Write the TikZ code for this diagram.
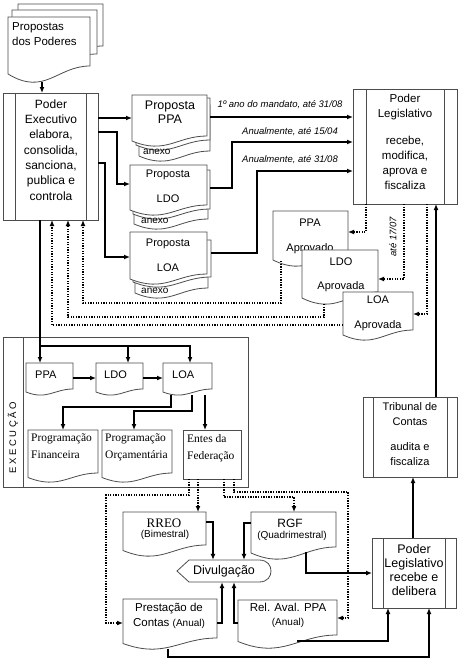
\documentclass[tikz,border=0pt]{standalone}
\usepackage{fontspec}
\setmainfont{Liberation Sans}
\newfontfamily\timesfont{Liberation Serif}
\newfontfamily\spacedfont[LetterSpace=28]{Liberation Sans}
\usetikzlibrary{arrows.meta,fit}

% document shape: rectangle with a wavy bottom
\makeatletter
\newdimen\doc@l \newdimen\doc@r \newdimen\doc@t \newdimen\doc@b
\newdimen\doc@w \newdimen\doc@ma \newdimen\doc@mb
\pgfkeys{/pgf/doc wave/.initial=11pt}
\pgfdeclareshape{doc}{%
  \inheritsavedanchors[from=rectangle]%
  \inheritanchorborder[from=rectangle]%
  \inheritanchor[from=rectangle]{center}%
  \inheritanchor[from=rectangle]{text}%
  \inheritanchor[from=rectangle]{base}%
  \inheritanchor[from=rectangle]{mid}%
  \inheritanchor[from=rectangle]{north}%
  \inheritanchor[from=rectangle]{south}%
  \inheritanchor[from=rectangle]{east}%
  \inheritanchor[from=rectangle]{west}%
  \inheritanchor[from=rectangle]{north east}%
  \inheritanchor[from=rectangle]{north west}%
  \inheritanchor[from=rectangle]{south east}%
  \inheritanchor[from=rectangle]{south west}%
  \backgroundpath{%
    \southwest \doc@l=\pgf@x \doc@b=\pgf@y
    \northeast \doc@r=\pgf@x \doc@t=\pgf@y
    \pgfmathsetlength\doc@w{\pgfkeysvalueof{/pgf/doc wave}}%
    \doc@ma=.4\doc@l \advance\doc@ma by .6\doc@r
    \doc@mb=.55\doc@l \advance\doc@mb by .45\doc@r
    \pgfpathmoveto{\pgfqpoint{\doc@l}{\doc@t}}%
    \pgfpathlineto{\pgfqpoint{\doc@r}{\doc@t}}%
    \pgfpathlineto{\pgfqpoint{\doc@r}{\dimexpr\doc@b+\doc@w\relax}}%
    \pgfpathcurveto{\pgfqpoint{\doc@ma}{\dimexpr\doc@b+\doc@w\relax}}%
      {\pgfqpoint{\doc@mb}{\dimexpr\doc@b-0.9\doc@w\relax}}%
      {\pgfqpoint{\doc@l}{\dimexpr\doc@b+0.5\doc@w\relax}}%
    \pgfpathclose
  }%
}
\makeatother

\begin{document}
\begin{tikzpicture}[x=1pt,y=1pt,yscale=-1,xscale=1,
  box/.style={draw=black!70, line width=0.8pt, fill=white, inner sep=0pt, outer sep=0pt},
  docbox/.style={box, shape=doc, doc wave=#1}, docbox/.default=11pt,
  procbox/.style={box, path picture={\draw[black!70, line width=0.8pt]
      ([xshift=#1]path picture bounding box.north west) -- ([xshift=#1]path picture bounding box.south west)
      ([xshift=-#1]path picture bounding box.north east) -- ([xshift=-#1]path picture bounding box.south east);}},
  procbox/.default=12pt,
  txt/.style={inner sep=0pt, align=center},
  conn/.style={line width=1.4pt, -{Latex[length=6pt,width=5pt]}},
  dotconn/.style={conn, dash pattern=on 1.3pt off 1.3pt},
  lbl/.style={inner sep=0pt, font=\itshape\fontsize{9.5}{11}\selectfont}]
\useasboundingbox (0,0) rectangle (474,669);

%Shape: Propostas dos Poderes
\node[docbox=14pt, fit={(18,4) (103,60)}] (propC) {};
\node[docbox=14pt, fit={(12,10) (97,68)}] (propB) {};
\node[docbox=16pt, fit={(8,17) (90,82)}] (propA) {};
% Text Node
\node[txt, align=left, anchor=north west, font=\fontsize{11.5}{15}\selectfont] (propT) at (12,22) {Propostas\\dos Poderes};

%Shape: Poder Executivo
\node[procbox=12pt, fit={(3,93) (98,220)}] (exec) {};
\node[txt, font=\fontsize{12}{15.3}\selectfont] (execT) at (51,150) {Poder\\Executivo\\elabora,\\consolida,\\sanciona,\\publica e\\controla};

%Shape: Proposta PPA
\node[docbox=10pt, fit={(139,105) (210,161)}] (ppaX) {};
\node[docbox=10pt, fit={(136,98) (210,150)}] (ppaB) {};
\node[txt, anchor=west, font=\fontsize{10}{12}\selectfont] (ppaXT) at (143,152) {anexo};
\node[docbox=10pt, fit={(132,95) (207,146)}] (ppaP) {};
\node[txt, font=\fontsize{12.5}{14}\selectfont] (ppaPT) at (170,112) {Proposta\\PPA};

%Shape: Proposta LDO
\node[docbox=10pt, fit={(134,175) (208,229)}] (ldoX) {};
\node[docbox=10pt, fit={(133,170) (210,219)}] (ldoB) {};
\node[txt, anchor=west, font=\fontsize{10}{12}\selectfont] (ldoXT) at (141,221) {anexo};
\node[docbox=10pt, fit={(130,165) (207,215)}] (ldoP) {};
\node[txt, font=\fontsize{11}{25}\selectfont] (ldoPT) at (168,186) {Proposta\\LDO};

%Shape: Proposta LOA
\node[docbox=10pt, fit={(135,242) (208,298)}] (loaX) {};
\node[docbox=10pt, fit={(133,240) (211,287)}] (loaB) {};
\node[txt, anchor=west, font=\fontsize{10}{12}\selectfont] (loaXT) at (141,291) {anexo};
\node[docbox=10pt, fit={(130,232) (207,284)}] (loaP) {};
\node[txt, font=\fontsize{11}{25}\selectfont] (loaPT) at (168,255) {Proposta\\LOA};

%Shape: Poder Legislativo
\node[procbox=13pt, fit={(353,89) (457,204)}] (leg1) {};
\node[txt, font=\fontsize{11.5}{15}\selectfont] (leg1T) at (405,142) {Poder\\Legislativo\\[12pt]recebe,\\modifica,\\aprova e\\fiscaliza};

%Shape: aprovados
\node[docbox=12pt, fit={(273,211) (348,266)}] (ppaA) {};
\node[txt, font=\fontsize{11}{25}\selectfont] (ppaAT) at (310,236) {PPA\\Aprovado};
\node[docbox=12pt, fit={(302,250) (378,304)}] (ldoA) {};
\node[txt, font=\fontsize{11}{24}\selectfont] (ldoAT) at (341,275) {LDO\\Aprovada};
\node[docbox=10pt, fit={(343,292) (413,340)}] (loaA) {};
\node[txt, font=\fontsize{11}{25}\selectfont] (loaAT) at (378,313) {LOA\\Aprovada};

%Shape: Tribunal de Contas
\node[procbox=10pt, fit={(363,397) (457,477)}] (trib) {};
\node[txt, font=\fontsize{11}{15.5}\selectfont] (tribT) at (410,434) {Tribunal de\\Contas\\[9pt]audita e\\fiscaliza};

%Shape: Poder Legislativo (baixo)
\node[procbox=11pt, fit={(372,538) (456,608)}] (leg2) {};
\node[txt, font=\fontsize{12.5}{14}\selectfont] (leg2T) at (414,570) {Poder\\Legislativo\\recebe e\\delibera};

%Shape: Execucao
\node[box, fit={(3,337) (248,487)}, path picture={\draw[black!70, line width=0.8pt]
  ([xshift=20pt]path picture bounding box.north west) -- ([xshift=20pt]path picture bounding box.south west);}] (exe) {};
\node[txt, rotate=90, font=\spacedfont\fontsize{9.5}{11}\selectfont] (exeT) at (13,438) {EXECUÇÃO};

\node[docbox=6pt, fit={(26,363) (73,395)}] (ePPA) {};
\node[txt, anchor=west, font=\fontsize{11}{13}\selectfont] (ePPAT) at (35,375) {PPA};
\node[docbox=6pt, fit={(96,363) (143,395)}] (eLDO) {};
\node[txt, anchor=west, font=\fontsize{11}{13}\selectfont] (eLDOT) at (104,375) {LDO};
\node[docbox=6pt, fit={(163,363) (212,395)}] (eLOA) {};
\node[txt, anchor=west, font=\fontsize{11}{13}\selectfont] (eLOAT) at (172,375) {LOA};

\node[docbox=9pt, fit={(28,430) (98,482)}] (progFin) {};
\node[txt, align=left, anchor=north west, font=\timesfont\fontsize{11.5}{17}\selectfont] (progFinT) at (31,434) {Programação\\Financeira};
\node[docbox=9pt, fit={(102,430) (172,482)}] (progOrc) {};
\node[txt, align=left, anchor=north west, font=\timesfont\fontsize{11.5}{17}\selectfont] (progOrcT) at (105,434) {Programação\\Orçamentária};
\node[box, fit={(183,430) (241,479)}] (entes) {};
\node[txt, align=left, anchor=north west, font=\timesfont\fontsize{11.5}{17}\selectfont] (entesT) at (187,434) {Entes da\\Federação};

%Shape: relatorios
\node[docbox=11pt, fit={(123,512) (206,556)}] (rreo) {};
\node[txt, font=\timesfont\fontsize{13}{14}\selectfont] (rreoT) at (164,523) {RREO};
\node[txt, font=\fontsize{10}{12}\selectfont] (rreoS) at (165,535) {(Bimestral)};
\node[docbox=12pt, fit={(251,512) (336,559)}] (rgf) {};
\node[txt, font=\fontsize{12}{14}\selectfont] (rgfT) at (290,523) {RGF};
\node[txt, font=\fontsize{10}{12}\selectfont] (rgfS) at (292,536) {(Quadrimestral)};

\draw[box] (177,571) -- (189,560) -- (259,560) .. controls (268,560) and (271,566) .. (271,571) .. controls (271,576) and (268,582) .. (259,582) -- (189,582) -- cycle;
\node[txt, minimum width=94, minimum height=22, font=\fontsize{12.5}{14}\selectfont] (divulg) at (224,571) {Divulgação};

\node[docbox=11pt, fit={(123,599) (217,649)}] (prest) {};
\node[txt, font=\fontsize{11.5}{15}\selectfont] (prestT) at (169,616) {Prestação de\\Contas {\fontsize{10}{12}\selectfont(Anual)}};
\node[docbox=13pt, fit={(238,600) (337,648)}] (relAval) {};
\node[txt, font=\fontsize{11.5}{14}\selectfont] (relAvalT) at (288,615) {Rel. Aval. PPA\\{\fontsize{10}{12}\selectfont(Anual)}};

% connectors
\coordinate (split) at (40,346);
\coordinate (ppaAout) at (281,261);
\coordinate (rgfout) at (306,552);
\coordinate (relAvalout) at (297,641);

\draw[conn] (propA.south -| 42,0) -- (exec.north -| 42,0);
\draw[conn] (exec.east |- 0,118) -- (ppaP.west |- 0,118);
\draw[conn] (exec.east |- 0,132) -| (117,184) -- (ldoP.west |- 0,184);
\draw[conn] (exec.east |- 0,163) -| (105,257) -- (loaP.west |- 0,257);

\draw[conn] (ppaB.east |- 0,117) -- (leg1.west |- 0,117);
\draw[conn] (ldoB.east |- 0,188) -| (232,142) -- (leg1.west |- 0,142);
\draw[conn] (loaB.east |- 0,253) -| (257,171) -- (leg1.west |- 0,171);
\node[lbl] (lblPPA) at (280,105) {1º ano do mandato, até 31/08};
\node[lbl] (lblLDO) at (290,132) {Anualmente, até 15/04};
\node[lbl] (lblLOA) at (290,160) {Anualmente, até 31/08};

\draw[dotconn] (leg1.south -| 366,0) |- (ppaA.east |- 0,232);
\draw[dotconn] (leg1.south -| 404,0) |- (ldoA.east |- 0,279);
\draw[dotconn] (leg1.south -| 427,0) |- (loaA.east |- 0,314);
\node[lbl, rotate=90] (lbl17) at (393,237) {até 17/07};

\draw[conn] (trib.north -| 436,0) -- (leg1.south -| 436,0);

\draw[dotconn] (ppaAout) |- (83,303) -- (exec.south -| 83,0);
\draw[dotconn] (ldoA.south -| 324,0) |- (68,317) -- (exec.south -| 68,0);
\draw[dotconn] (loaA.west |- 0,325) -- (52,325) -- (exec.south -| 52,0);

\draw[conn] (exec.south -| 40,0) -- (ePPA.north -| 40,0);
\draw[conn] (split) -| (eLDO.north -| 128,0);
\draw[conn] (split -| 128,0) -| (eLOA.north -| 190,0);
\draw[conn] (ePPA.east |- 0,378) -- (eLDO.west |- 0,378);
\draw[conn] (eLDO.east |- 0,378) -- (eLOA.west |- 0,378);

\draw[conn] (eLOA.south -| 171,0) |- (63,407) -- (progFin.north -| 63,0);
\draw[conn] (eLOA.south -| 192,0) |- (134,411) -- (progOrc.north -| 134,0);
\draw[conn] (eLOA.south -| 205,0) -- (entes.north -| 205,0);

\draw[dotconn] (entes.south -| 189,0) |- (106,495) |- (prest.west |- 0,623);
\draw[dotconn] (entes.south -| 198,0) -- (rreo.north -| 198,0);
\draw[dotconn] (entes.south -| 224,0) |- (294,497) -- (rgf.north -| 294,0);
\draw[dotconn] (entes.south -| 234,0) |- (348,492) |- (relAval.east |- 0,618);

\draw[conn] (rreo.east |- 0,522) -| (divulg.north -| 213,0);
\draw[conn] (rgf.west |- 0,523) -| (divulg.north -| 244,0);
\draw[conn] (prest.east |- 0,623) -| (divulg.south -| 222,0);
\draw[conn] (relAval.west |- 0,623) -| (divulg.south -| 234,0);

\draw[conn] (rgfout) |- (leg2.west |- 0,573);
\draw[conn] (relAvalout) -| (leg2.south -| 388,0);
\draw[conn] (prest.south -| 168,0) |- (429,657) -- (leg2.south -| 429,0);
\draw[conn] (leg2.north -| 413,0) -- (trib.south -| 413,0);

\end{tikzpicture}
\end{document}
